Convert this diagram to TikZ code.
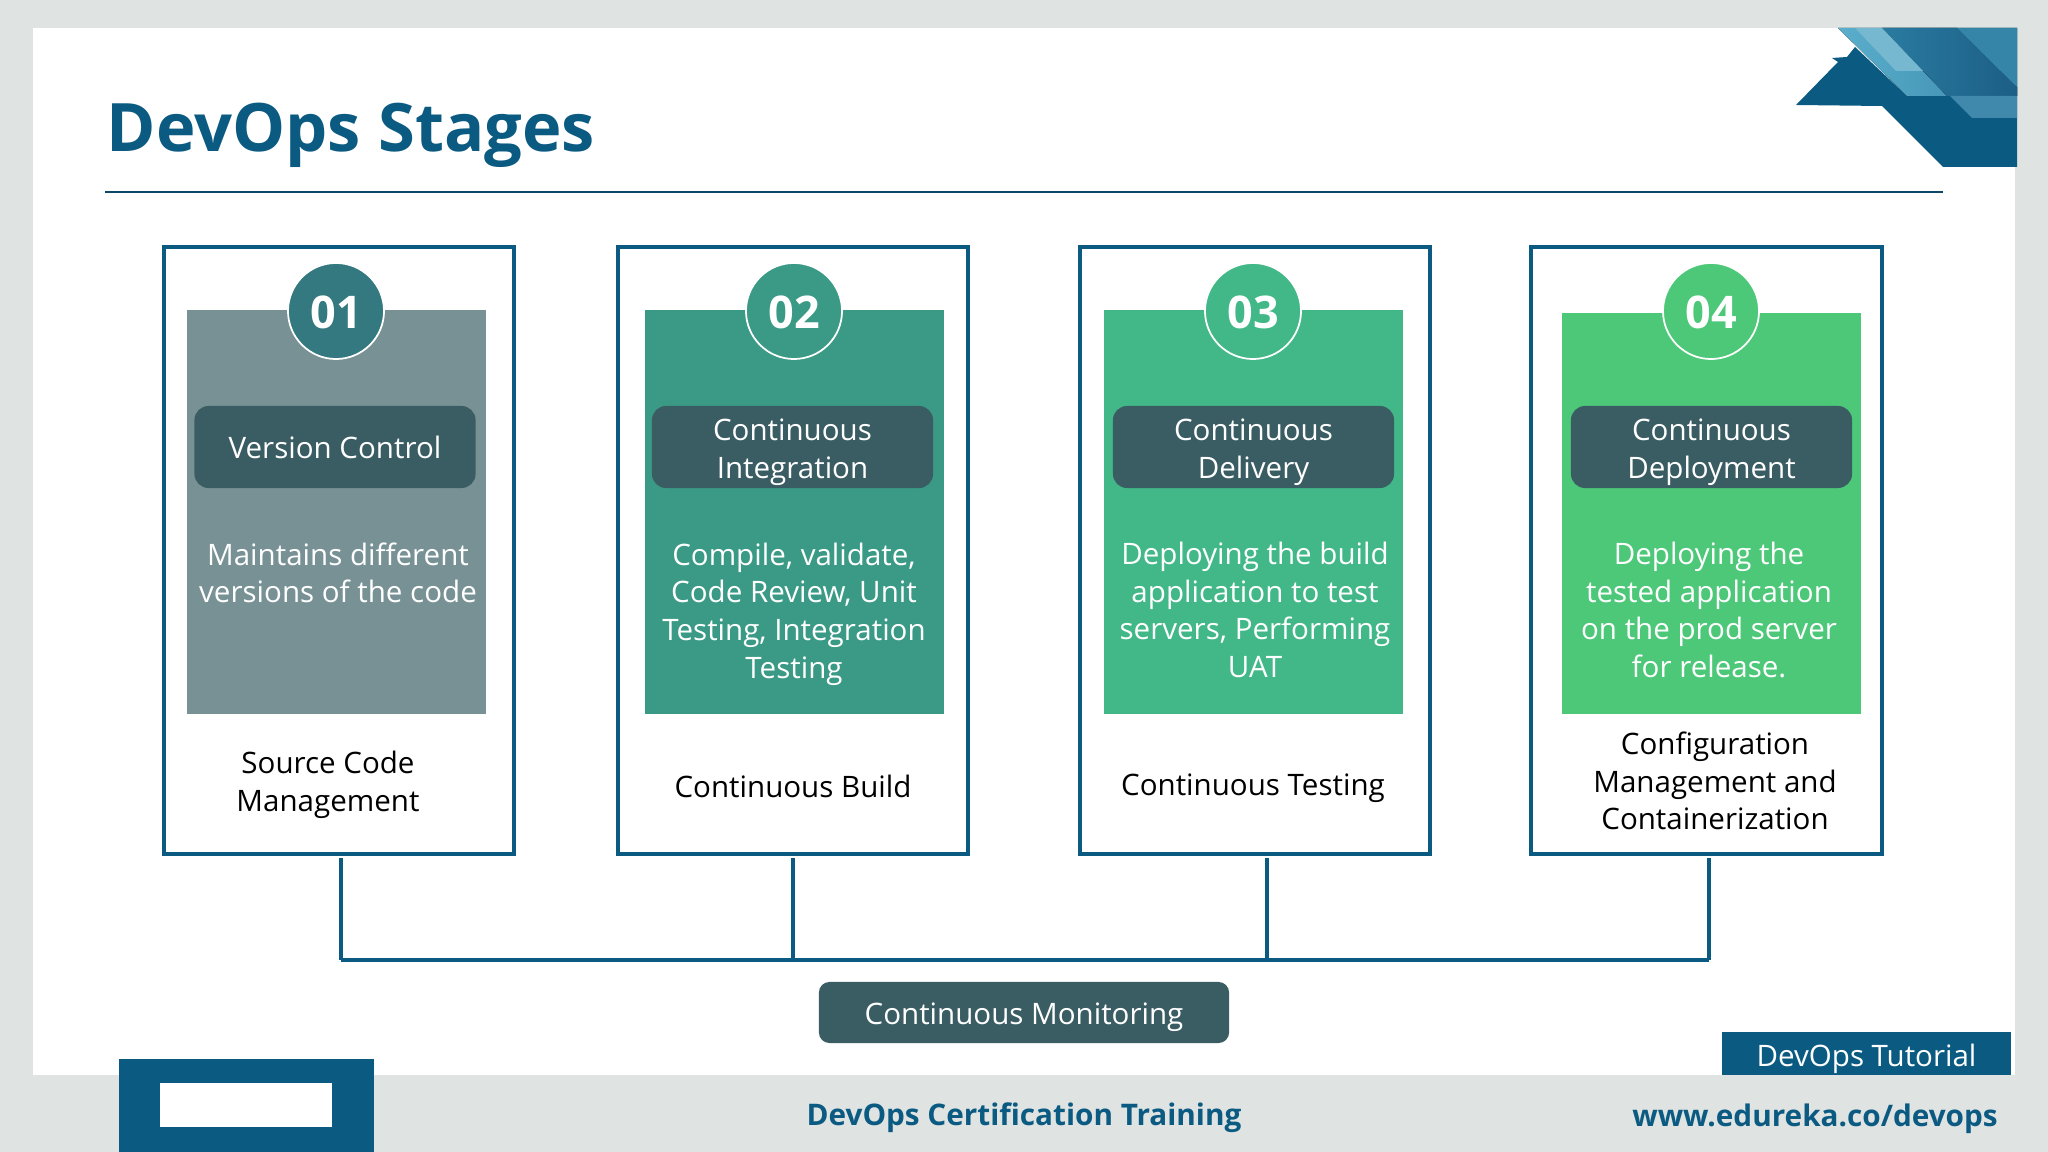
\documentclass[tikz,border=0pt]{standalone}
\usepackage{fontspec}
\setmainfont{Open Sans}
\definecolor{pagegrey}{HTML}{DFE3E2}
\definecolor{edublue}{HTML}{0B5A82}
\definecolor{tagdark}{HTML}{3A5C63}
\definecolor{panelone}{HTML}{789195}
\definecolor{paneltwo}{HTML}{3A9A85}
\definecolor{panelthree}{HTML}{42B888}
\definecolor{panelfour}{HTML}{4CC878}
\definecolor{badgeone}{HTML}{34797F}
\definecolor{cornerlight}{HTML}{5AAFCC}
\definecolor{cornermid}{HTML}{3B88AB}
\definecolor{cornerband}{HTML}{2A7BA0}
\definecolor{cornerdeep}{HTML}{1C5E86}
\definecolor{cornerright}{HTML}{3585A8}
\definecolor{cornerpale}{HTML}{75B8CF}
\definecolor{cornerlow}{HTML}{4089AD}
\newcommand{\lowertwo}{\rule{0pt}{9.3pt}}
\newcommand{\lowerone}{\rule{0pt}{8.9pt}}
\newcommand{\lowernum}{\rule{0pt}{10.3pt}}
\tikzset{
    stagebox/.style={draw=edublue, line width=1.15pt, fill=white, minimum width=350*0.2845pt, minimum height=607*0.2845pt, inner sep=0pt},
    panel/.style={minimum width=299*0.2845pt, minimum height=404*0.2845pt, inner sep=0pt},
    badge/.style={circle, draw=white, line width=0.5pt, minimum size=96*0.2845pt, inner sep=0pt, text=white, font=\fontsize{12.8}{15}\selectfont\bfseries},
    tag/.style={rectangle, rounded corners=4pt, fill=tagdark, text=white, minimum width=281*0.2845pt, minimum height=82*0.2845pt, inner sep=0pt, align=center, font=\fontsize{8.4}{10.7}\selectfont},
    bodytext/.style={text=white, align=center, inner sep=0pt, font=\fontsize{8.4}{10.7}\selectfont},
    caption/.style={text=black, align=center, inner sep=0pt, font=\fontsize{8.4}{10.7}\selectfont},
    link/.style={draw=edublue, line width=1.1pt},
    drop/.style={link, shorten <=0.6pt},
    footer/.style={text=edublue, inner sep=0pt, font=\fontsize{8.45}{10}\selectfont\bfseries},
}
\begin{document}
\begin{tikzpicture}[x=0.01cm, y=-0.01cm]
    \useasboundingbox (0, 0) rectangle (2048, 1152);
    \fill[pagegrey] (0, 0) rectangle (2048, 1152);
    \fill[white] (33, 28) rectangle (2015, 1075);

    \fill[edublue] (1796, 105) -- (1838, 62) -- (1832, 58) -- (1847, 57) -- (1855, 47) -- (1907, 96) -- (2017, 96) -- (2017, 167) -- (1943, 167) -- (1882, 106) -- cycle;
    \fill[left color=cornerlight, right color=cornermid] (1838, 28) -- (2017, 28) -- (2017, 96) -- (1907, 96) -- cycle;
    \fill[left color=cornerband, right color=cornerdeep] (1882, 28) -- (1957, 28) -- (2017, 87) -- (2017, 96) -- (1947, 96) -- cycle;
    \fill[cornerright] (1957, 28) -- (2017, 28) -- (2017, 87) -- cycle;
    \fill[cornerpale] (1855, 28) -- (1882, 28) -- (1923, 71) -- (1896, 71) -- cycle;
    \fill[cornerlow] (1950, 96) -- (2017, 96) -- (2017, 118) -- (1972, 118) -- cycle;

    \node[anchor=base west, inner sep=0pt, text=edublue, font=\fontsize{19}{23}\selectfont\bfseries] (title) at (106, 152) {DevOps Stages};
    \coordinate (rulel) at (105, 192);
    \coordinate (ruler) at (1943, 192);
    \draw[edublue!80!black, line width=0.5pt] (rulel) -- (ruler);

    \node[stagebox] (box1) at (339, 550.5) {};
    \node[stagebox] (box2) at (793, 550.5) {};
    \node[stagebox] (box3) at (1255, 550.5) {};
    \node[stagebox] (box4) at (1706.5, 550.5) {};

    \node[panel, fill=panelone] (panel1) at (336.5, 512) {};
    \node[panel, fill=paneltwo] (panel2) at (794.5, 512) {};
    \node[panel, fill=panelthree] (panel3) at (1253.5, 512) {};
    \node[panel, fill=panelfour, minimum height=401*0.2845pt] (panel4) at (1711.5, 513.5) {};

    \node[badge, fill=badgeone] (num1) at (336, 311) {\lowernum 01};
    \node[badge, fill=paneltwo] (num2) at (794, 311) {\lowernum 02};
    \node[badge, fill=panelthree] (num3) at (1253, 311) {\lowernum 03};
    \node[badge, fill=panelfour] (num4) at (1711, 311) {\lowernum 04};

    \node[tag] (tag1) at (335, 447) {Version Control};
    \node[tag] (tag2) at (792.5, 447) {\lowertwo Continuous\\Integration};
    \node[tag] (tag3) at (1253.5, 447) {\lowertwo Continuous\\Delivery};
    \node[tag] (tag4) at (1711.5, 447) {\lowertwo Continuous\\Deployment};

    \node[bodytext] (body1) at (338, 573) {Maintains different\\versions of the code};
    \node[bodytext] (body2) at (794, 614) {Compile, validate,\\Code Review, Unit\\Testing, Integration\\Testing};
    \node[bodytext] (body3) at (1255, 610) {Deploying the build\\application to test\\servers, Performing\\UAT};
    \node[bodytext] (body4) at (1709, 610) {Deploying the\\tested application\\on the prod server\\for release.};

    \node[caption] (cap1) at (328, 785) {Source Code\\Management};
    \node[caption] (cap2) at (793, 786) {Continuous Build};
    \node[caption] (cap3) at (1253, 788) {Continuous Testing};
    \node[caption] (cap4) at (1715, 781) {Configuration\\Management and\\Containerization};

    \coordinate (bus1) at (341, 960);
    \coordinate (bus2) at (793, 960);
    \coordinate (bus3) at (1267, 960);
    \coordinate (bus4) at (1709, 960);
    \draw[drop] (bus1 |- box1.south) -- (bus1);
    \draw[drop] (bus2 |- box2.south) -- (bus2);
    \draw[drop] (bus3 |- box3.south) -- (bus3);
    \draw[drop] (bus4 |- box4.south) -- (bus4);
    \draw[link] (bus1) -- (bus4);

    \node[tag, rounded corners=3pt, minimum width=410*0.2845pt, minimum height=61*0.2845pt] (monitor) at (1024, 1012.5) {\lowerone Continuous Monitoring};

    \node[fill=edublue, text=white, inner sep=0pt, minimum width=289*0.2845pt, minimum height=43*0.2845pt, font=\fontsize{8.4}{10}\selectfont] (tutorial) at (1866.5, 1053.5) {\lowertwo DevOps Tutorial};
    \node[footer] (training) at (1024, 1118) {DevOps Certification Training};
    \node[footer] (site) at (1815, 1119) {www.edureka.co/devops};

    \fill[edublue] (119, 1059) rectangle (374, 1152);
    \fill[white] (160, 1083) rectangle (332, 1127);
\end{tikzpicture}
\end{document}
